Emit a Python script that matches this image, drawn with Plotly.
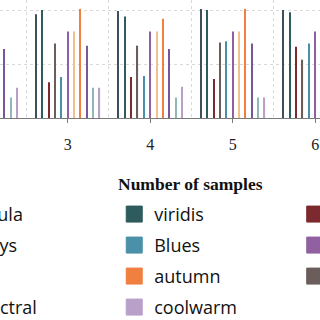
import plotly.graph_objects as go

categories = [2, 3, 4, 5, 6]
tick_labels = ["2", "3", "4", "5", "6"]

# series in bar order within each group
series_names = ["parula", "viridis", "Reds", "copper", "Blues", "Purples",
                "jet", "autumn", "Spectral", "Greys", "coolwarm"]
series_colors = ["#3f4d5c", "#2e5b5e", "#7d2a2e", "#6b5d5a", "#4a90a8", "#9060a0",
                 "#f2c08a", "#f08040", "#76589a", "#8fb8b6", "#b9a0c8"]
series_values = {
    "parula":   [0.95, 0.96, 0.99, 1.01, 1.00],
    "viridis":  [1.00, 1.00, 0.94, 1.00, 0.98],
    "Reds":     [0.35, 0.33, 0.38, 0.36, 0.66],
    "copper":   [0.68, 0.69, 0.67, 0.70, 0.54],
    "Blues":    [0.40, 0.38, 0.39, 0.71, 0.69],
    "Purples":  [0.80, 0.80, 0.80, 0.80, 0.80],
    "jet":      [0.80, 0.80, 0.80, 0.80, 0.80],
    "autumn":   [1.00, 1.01, 0.92, 1.01, 1.00],
    "Spectral": [0.64, 0.67, 0.64, 0.69, 0.68],
    "Greys":    [0.19, 0.28, 0.19, 0.19, 0.20],
    "coolwarm": [0.28, 0.28, 0.29, 0.19, 0.20],
}

# legend columns (column-major as in the reference)
legend_columns = [
    ["parula", "Greys", "jet", "Spectral"],
    ["viridis", "Blues", "autumn", "coolwarm"],
    ["Reds", "Purples", "copper"],
]

color_of = dict(zip(series_names, series_colors))

fig = go.Figure()
for name, col in zip(series_names, series_colors):
    fig.add_trace(go.Bar(x=categories, y=series_values[name], name=name,
                         marker=dict(color=col, line=dict(width=0)),
                         showlegend=False))

legend_ids = ["legend", "legend2", "legend3"]
for lid, names in zip(legend_ids, legend_columns):
    for name in names:
        c = color_of[name]
        fig.add_trace(go.Scatter(x=[None], y=[None], mode="markers", name=name,
                                 legend=lid, legendgroup=name,
                                 marker=dict(symbol="square", size=16, color=c,
                                             line=dict(width=1, color=c))))

legend_font = dict(family="Open Sans", size=18, color="#111111", weight=500)
leg_common = dict(font=legend_font, orientation="v", xanchor="left", yanchor="top",
                  y=-0.66, tracegroupgap=4.6, bgcolor="rgba(0,0,0,0)", borderwidth=0)

grid_col = "#d9d9d9"

fig.update_layout(
    width=320, height=320,
    margin=dict(l=0, r=0, t=0, b=202, autoexpand=False),
    paper_bgcolor="white", plot_bgcolor="white",
    barmode="group", bargap=0.152, bargroupgap=0.82,
    xaxis=dict(range=[2.179, 6.058], tickvals=categories, ticktext=tick_labels,
               showgrid=False, zeroline=False, showline=True, linecolor="#7a7a7a",
               linewidth=1, ticks="outside", ticklen=4, tickcolor="#7a7a7a",
               ticklabelstandoff=8,
               tickfont=dict(family="Liberation Serif", size=16, color="#222222"),
               minor=dict(tickvals=[2.5, 3.5, 4.5, 5.5], showgrid=True,
                          gridcolor=grid_col, griddash="dot", gridwidth=1, ticks="")),
    yaxis=dict(range=[0, 1.0926], tickvals=[0.5, 1.0], showticklabels=False,
               showgrid=True, gridcolor=grid_col, griddash="dot", gridwidth=1,
               zeroline=False, showline=False),
    legend=dict(x=-0.222, **leg_common),
    legend2=dict(x=0.357, **leg_common),
    legend3=dict(x=0.921, **leg_common),
    annotations=[dict(text="<b>Number of samples</b>", xref="paper", yref="paper",
                      x=0.594, y=-0.56, xanchor="center", yanchor="middle",
                      showarrow=False,
                      font=dict(family="Liberation Serif", size=17.5, color="#111111"))],
)

fig.write_html("out.html")
